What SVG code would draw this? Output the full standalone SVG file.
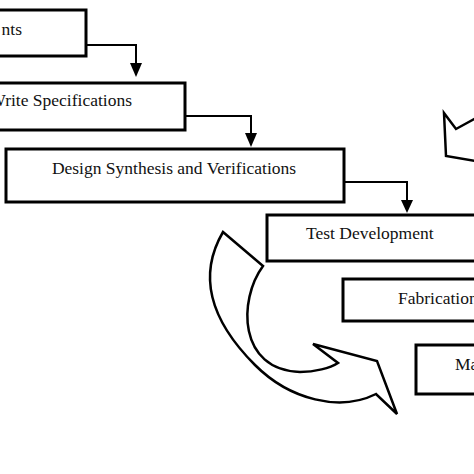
<svg xmlns="http://www.w3.org/2000/svg" width="474" height="474" viewBox="0 0 474 474">
<defs>
<style>
.box{fill:#fff;stroke:#000;stroke-width:3}
.lbl{font-family:"Liberation Serif","Times New Roman",serif;font-size:17.5px;fill:#111}
.con{fill:none;stroke:#000;stroke-width:2}
.shape{fill:#fff;stroke:#000;stroke-width:2.5;stroke-linejoin:miter}
</style>
<marker id="ah" markerWidth="12" markerHeight="14" refX="6" refY="14" orient="auto" markerUnits="userSpaceOnUse" viewBox="0 0 12 14">
<path d="M0,0 L12,0 L6,14 Z" fill="#000"/>
</marker>
</defs>
<rect width="474" height="474" fill="#fff"/>
<g id="connectors">
<path class="con" d="M86,45 H136 V63"/>
<path d="M130,63 H142 L136,77 Z" fill="#000"/>
<path class="con" d="M185,116 H251 V133"/>
<path d="M245,133 H257 L251,147 Z" fill="#000"/>
<path class="con" d="M344,182 H407 V200"/>
<path d="M401,200 H413 L407,213 Z" fill="#000"/>
</g>
<g id="node-requirements">
<rect class="box" x="-10" y="10" width="96" height="46"/>
<text class="lbl" x="22" y="35" text-anchor="end">nts</text>
</g>
<g id="node-write-spec">
<rect class="box" x="-10" y="83" width="195" height="47"/>
<text class="lbl" x="132" y="106" text-anchor="end">Write Specifications</text>
</g>
<g id="node-design">
<rect class="box" x="6" y="149" width="338" height="53"/>
<text class="lbl" x="174" y="174" text-anchor="middle">Design Synthesis and Verifications</text>
</g>
<g id="node-test">
<rect class="box" x="267" y="215" width="223" height="46"/>
<text class="lbl" x="306" y="239">Test Development</text>
</g>
<g id="node-fabrication">
<rect class="box" x="343" y="279" width="147" height="42"/>
<text class="lbl" x="398" y="304">Fabrication</text>
</g>
<g id="node-ma">
<rect class="box" x="416" y="345" width="74" height="49"/>
<text class="lbl" x="455" y="370">Ma</text>
</g>
<g id="curved-arrow">
<path class="shape" d="M223,232 L263,266 C238,300 238,370 300,372 C315,372 330,368 338,363 L313,344 L377,361 L397,414 L376,394 C340,412 290,400 255,365 C215,325 195,280 223,232 Z"/>
</g>
<g id="right-arrow">
<path class="shape" d="M476,118 L456,129 L444,113 L446,156 L476,161"/>
</g>
</svg>
